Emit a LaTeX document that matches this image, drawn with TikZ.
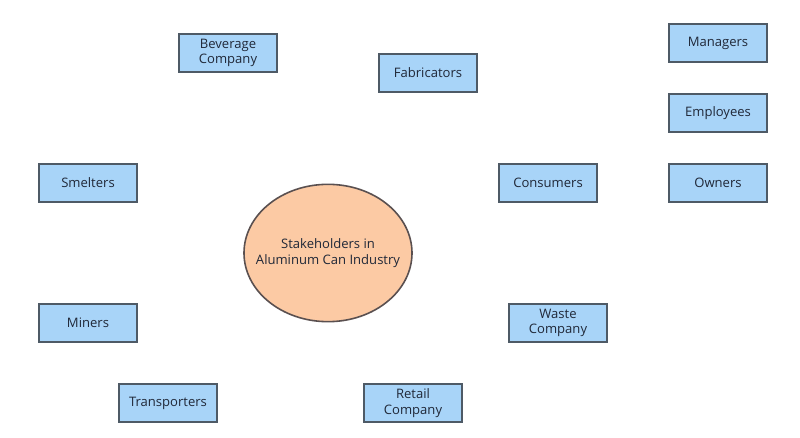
\documentclass[tikz,border=0pt]{standalone}
\usepackage{fontspec}
\setmainfont{Open Sans}
\usetikzlibrary{shapes.geometric}
\definecolor{boxfill}{HTML}{A8D4F8}
\definecolor{boxline}{HTML}{4E5A66}
\definecolor{ellfill}{HTML}{FCCAA4}
\definecolor{ellline}{HTML}{5A5050}
\definecolor{txt}{HTML}{202838}
\begin{document}
\begin{tikzpicture}[x=0.75pt,y=-0.75pt,
  stake/.style={draw=boxline,fill=boxfill,line width=1.5pt,minimum width=73.5pt,minimum height=28.5pt,inner sep=1pt,align=center,font=\fontsize{9.8}{11.5}\selectfont,text=txt},
  core/.style={ellipse,draw=ellline,fill=ellfill,line width=1.2pt,minimum width=126pt,minimum height=103pt,inner sep=0pt},
  coretext/.style={align=center,inner sep=0pt,font=\fontsize{9.8}{12}\selectfont,text=txt}]
\useasboundingbox (0,0) rectangle (800,438);
\node[stake] (bev) at (228,53) {Beverage\\Company};
\node[stake] (fab) at (428,73) {Fabricators};
\node[stake] (man) at (718,43) {Managers};
\node[stake] (emp) at (718,113) {Employees};
\node[stake] (own) at (718,183) {Owners};
\node[stake] (con) at (548,183) {Consumers};
\node[stake] (sme) at (88,183) {Smelters};
\node[stake] (min) at (88,323) {Miners};
\node[stake] (tra) at (168,403) {Transporters};
\node[stake] (ret) at (413,403) {Retail\\Company};
\node[stake] (was) at (558,323) {Waste\\Company};
\node[core] (ctr) at (328,253) {};
\node[coretext] (ctrlabel) at (ctr.center) {Stakeholders in\\Aluminum Can Industry};
\end{tikzpicture}
\end{document}
